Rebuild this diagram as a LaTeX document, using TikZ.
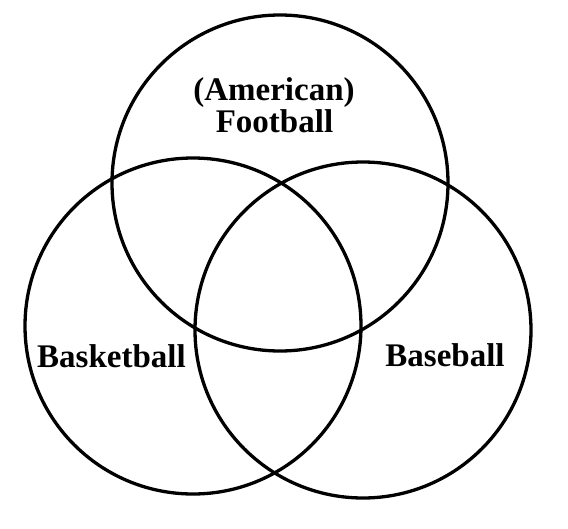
\documentclass[tikz,border=0pt]{standalone}
\usepackage{fontspec}
\setmainfont{Liberation Serif}
\begin{document}
\begin{tikzpicture}[x=1pt,y=-1pt,
  setcircle/.style={draw=black,line width=3.3pt,circle,minimum size=336pt,inner sep=0pt},
  setlabel/.style={font=\bfseries\fontsize{33}{33}\selectfont,inner sep=0pt,anchor=base}]
\useasboundingbox[fill=white] (0,0) rectangle (568,528);
\node[setcircle] (football) at (280,183) {};
\node[setcircle] (basketball) at (193,326) {};
\node[setcircle] (baseball) at (363,330) {};
\node[setlabel] (tamerican) at (274,100) {(American)};
\node[setlabel] (tfootball) at (274.5,132) {Football};
\node[setlabel] (tbasketball) at (111.5,367) {Basketball};
\node[setlabel] (tbaseball) at (445,366) {Baseball};
\end{tikzpicture}
\end{document}
